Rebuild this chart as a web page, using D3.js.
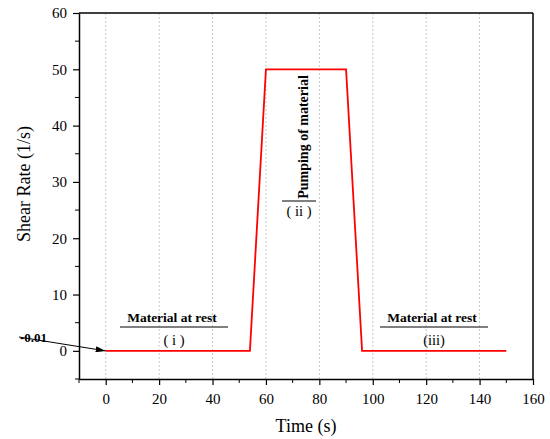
<!DOCTYPE html>
<html>
<head>
<meta charset="utf-8">
<script src="https://cdn.jsdelivr.net/npm/d3@7"></script>
<style>
  body { margin: 0; background: #fff; }
</style>
</head>
<body>
<svg id="chart" width="550" height="439" font-family="Liberation Serif, serif"></svg>
<script>
const timeValues = [0, 54, 60, 90, 96, 150];
const shearValues = [0, 0, 50, 50, 0, 0];
const xTicks = [0, 20, 40, 60, 80, 100, 120, 140, 160];
const xMinorTicks = [-10, 10, 30, 50, 70, 90, 110, 130, 150];
const yTicks = [0, 10, 20, 30, 40, 50, 60];
const yMinorTicks = [-5, 5, 15, 25, 35, 45, 55];
const gridX = [0, 20, 40, 60, 80, 100, 120, 140];

const serif = "Liberation Serif";
const margin = {left: 79, top: 13, right: 17, bottom: 60};
const width = 550, height = 439;

const svg = d3.select("#chart");

const x = d3.scaleLinear().domain([-10, 160]).range([margin.left, width - margin.right]);
const y = d3.scaleLinear().domain([-5, 60]).range([height - margin.bottom, margin.top]);

// vertical dotted grid
svg.append("g").selectAll("line")
  .data(gridX)
  .join("line")
    .attr("x1", d => x(d)).attr("x2", d => x(d))
    .attr("y1", y(60)).attr("y2", y(-5))
    .attr("stroke", "#c8c8c8")
    .attr("stroke-width", 1)
    .attr("stroke-dasharray", "2,2");

// axes
const xAxis = d3.axisBottom(x).tickValues(xTicks).tickSize(6).tickSizeOuter(0);
const gx = svg.append("g")
  .attr("transform", `translate(0,${y(-5)})`)
  .call(xAxis)
  .attr("font-family", serif)
  .attr("font-size", 15);
gx.selectAll("text").attr("dy", "1.05em");
gx.append("g").selectAll("line")
  .data(xMinorTicks)
  .join("line")
    .attr("x1", d => x(d)).attr("x2", d => x(d))
    .attr("y1", 0).attr("y2", 4)
    .attr("stroke", "#000");

const yAxis = d3.axisLeft(y).tickValues(yTicks).tickSize(6).tickSizeOuter(0);
const gy = svg.append("g")
  .attr("transform", `translate(${x(-10)},0)`)
  .call(yAxis)
  .attr("font-family", serif)
  .attr("font-size", 15);
gy.selectAll("text").attr("dx", "-0.2em");
gy.append("g").selectAll("line")
  .data(yMinorTicks)
  .join("line")
    .attr("x1", 0).attr("x2", -4)
    .attr("y1", d => y(d)).attr("y2", d => y(d))
    .attr("stroke", "#000");

svg.selectAll(".domain").attr("stroke-width", 1.5);
svg.selectAll(".tick line").attr("stroke-width", 1.2);

// frame top and right
svg.append("line")
  .attr("x1", x(-10)).attr("x2", x(160))
  .attr("y1", y(60)).attr("y2", y(60))
  .attr("stroke", "#000").attr("stroke-width", 1.5);
svg.append("line")
  .attr("x1", x(160)).attr("x2", x(160))
  .attr("y1", y(60)).attr("y2", y(-5))
  .attr("stroke", "#000").attr("stroke-width", 1.5);

// axis titles
svg.append("text")
  .attr("x", 306).attr("y", 432)
  .attr("text-anchor", "middle")
  .attr("font-size", 18)
  .text("Time (s)");
svg.append("text")
  .attr("transform", "translate(30,184) rotate(-90)")
  .attr("text-anchor", "middle")
  .attr("font-size", 18)
  .text("Shear Rate (1/s)");

// data line
const line = d3.line().x((d, i) => x(timeValues[i])).y(d => y(d));
svg.append("path")
  .datum(shearValues)
  .attr("d", line)
  .attr("fill", "none")
  .attr("stroke", "#ff0000")
  .attr("stroke-width", 1.8);

// annotations
function restLabel(cx, roman) {
  const g = svg.append("g");
  g.append("text")
    .attr("x", cx - 2).attr("y", 322)
    .attr("text-anchor", "middle")
    .attr("font-size", 13.5).attr("font-weight", "bold")
    .text("Material at rest");
  g.append("line")
    .attr("x1", cx - 54).attr("x2", cx + 54)
    .attr("y1", 327).attr("y2", 327)
    .attr("stroke", "#000").attr("stroke-width", 1);
  g.append("text")
    .attr("x", cx).attr("y", 345)
    .attr("text-anchor", "middle")
    .attr("font-size", 14.5)
    .text(roman);
}
restLabel(174, "( i )");
restLabel(434, "(iii)");

svg.append("text")
  .attr("transform", "translate(308,137) rotate(-90)")
  .attr("text-anchor", "middle")
  .attr("font-size", 14).attr("font-weight", "bold")
  .text("Pumping of material");
svg.append("line")
  .attr("x1", 282).attr("x2", 316)
  .attr("y1", 201).attr("y2", 201)
  .attr("stroke", "#000").attr("stroke-width", 1);
svg.append("text")
  .attr("x", 299).attr("y", 216)
  .attr("text-anchor", "middle")
  .attr("font-size", 14.5)
  .text("( ii )");

// -0.01 arrow
svg.append("defs").append("marker")
  .attr("id", "arr")
  .attr("viewBox", "0 0 10 6")
  .attr("refX", 10).attr("refY", 3)
  .attr("markerWidth", 10).attr("markerHeight", 6)
  .attr("markerUnits", "userSpaceOnUse")
  .attr("orient", "auto")
  .append("path").attr("d", "M0,0L10,3L0,6Z").attr("fill", "#000");
svg.append("text")
  .attr("x", 20).attr("y", 342)
  .attr("font-size", 13).attr("font-weight", "bold")
  .text("-0.01");
svg.append("line")
  .attr("x1", 19).attr("y1", 337)
  .attr("x2", x(0)).attr("y2", y(-0.01))
  .attr("stroke", "#000").attr("stroke-width", 1)
  .attr("marker-end", "url(#arr)");
</script>
</body>
</html>
